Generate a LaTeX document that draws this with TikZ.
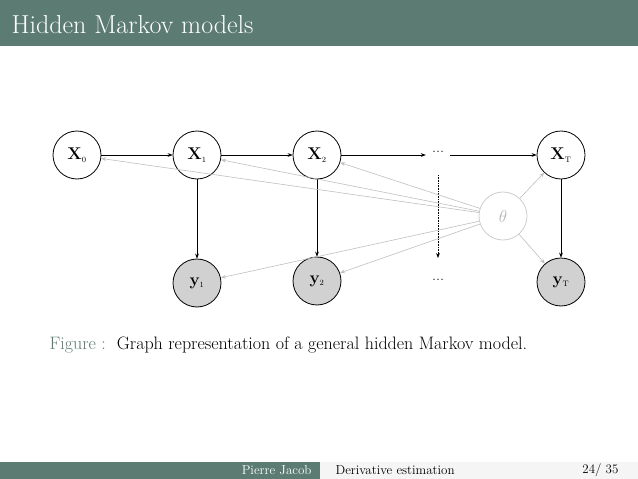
\documentclass[tikz,border=0pt]{standalone}
\usetikzlibrary{arrows.meta}
\definecolor{bar}{HTML}{5B7B73}
\begin{document}
\begin{tikzpicture}[x=1pt,y=-1pt,
 st/.style={circle,draw,thick,minimum size=48pt,inner sep=0pt,font=\fontsize{17}{20}\selectfont\bfseries},
 obs/.style={st,fill=black!18},
 ar/.style={-{Stealth[length=5pt]},semithick},
 gr/.style={-{Stealth[length=5pt]},black!25,semithick}]
\useasboundingbox (0,0) rectangle (638,479);
\fill[bar] (0,0) rectangle (638,46);
\node[white,anchor=west,font=\fontsize{26}{30}\selectfont] (title) at (8,25) {Hidden Markov models};
\node[st] (x0) at (77,155) {X$_{\scriptscriptstyle 0}$};
\node[st] (x1) at (197,155) {X$_{\scriptscriptstyle 1}$};
\node[st] (x2) at (317,155) {X$_{\scriptscriptstyle 2}$};
\node[inner sep=6pt,font=\fontsize{16}{18}\selectfont] (d1) at (438,152) {...};
\node[st] (xT) at (561,155) {X$_{\scriptscriptstyle\mathrm{T}}$};
\node[st,draw=black!20,text=black!30,font=\fontsize{16}{18}\selectfont] (th) at (503,216) {$\mathrm{\theta}$};
\node[obs] (y1) at (197,283) {y$_{\scriptscriptstyle 1}$};
\node[obs] (y2) at (317,281) {y$_{\scriptscriptstyle 2}$};
\node[font=\fontsize{16}{18}\selectfont] (d2) at (438,280) {...};
\node[obs] (yT) at (561,282) {y$_{\scriptscriptstyle\mathrm{T}}$};
\coordinate (ds) at (438,175); \coordinate (de) at (438,258);
\draw[ar] (x0)--(x1); \draw[ar] (x1)--(x2); \draw[ar] (x2)--(d1.west|-x2); \draw[ar] (d1.east|-xT)--(xT);
\draw[ar] (x1)--(y1); \draw[ar] (x2)--(y2); \draw[ar] (xT)--(yT);
\draw[ar,densely dotted] (ds)--(de);
\foreach \t in {x0,x1,x2,y1,y2,xT,yT} \draw[gr] (th)--(\t);
\node[anchor=west,font=\fontsize{18}{21}\selectfont] (cap) at (46,345) {\textcolor{bar}{Figure :}\ \ Graph representation of a general hidden Markov model.};
\fill[bar] (0,462) rectangle (320,479);
\fill[black!4] (320,462) rectangle (638,479);
\node[white,anchor=east,font=\fontsize{13}{15}\selectfont] (au) at (315,470.5) {Pierre Jacob};
\node[anchor=west,font=\fontsize{13}{15}\selectfont] (ti) at (332,470.5) {Derivative estimation};
\node[anchor=east,font=\fontsize{13}{15}\selectfont] (pg) at (622,470.5) {24/ 35};
\end{tikzpicture}
\end{document}
